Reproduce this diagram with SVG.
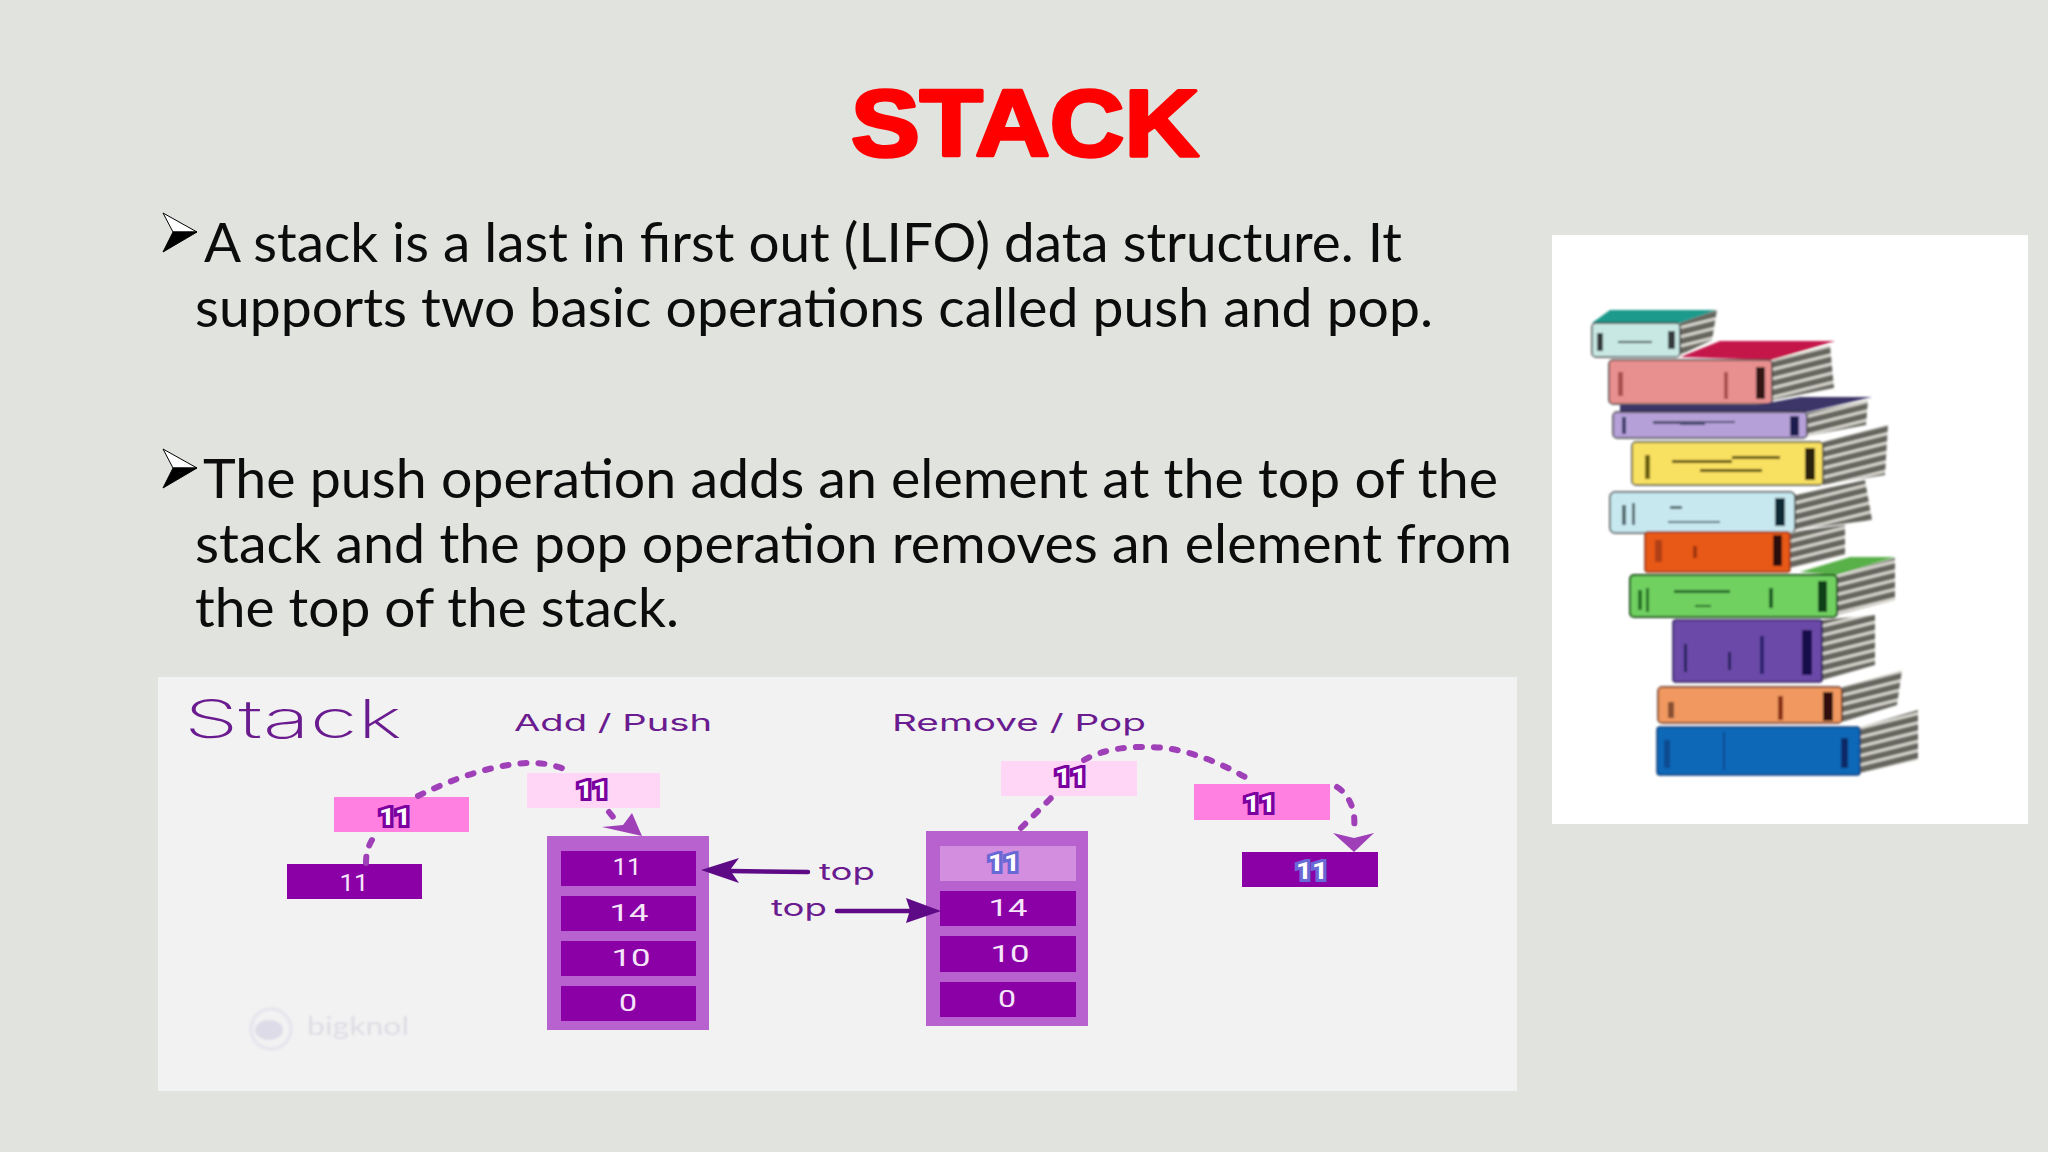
<svg xmlns="http://www.w3.org/2000/svg" width="2048" height="1152" viewBox="0 0 2048 1152">
<defs>
<style>
.body{font-family:"Lato","Liberation Sans",sans-serif;font-size:55px;fill:#0c0c0c}
.lbl{font-family:"Inter","Liberation Sans",sans-serif;fill:#6a1b8f}
.cell{fill:#8a00a6}
.frame{fill:#b862d0}
.val{font-family:"Roboto","Liberation Sans",sans-serif;font-size:23px;fill:#f6e4fa;text-anchor:middle}
.out{font-family:"Roboto","Liberation Sans",sans-serif;font-weight:700;font-size:24px;text-anchor:middle;fill:#fff;stroke:#7a00a0;stroke-width:6px;paint-order:stroke}
.blue{stroke:#6a68d4}
.dash{fill:none;stroke:#a040b8;stroke-width:6;stroke-linecap:round;stroke-dasharray:6 12}
.head{fill:#a040b8}
.top{fill:none;stroke:#5e0a86;stroke-width:4.5;stroke-linecap:round}
.toph{fill:#5e0a86}
.pg{fill:url(#pages)}
.sp{fill:#1c1c1c;opacity:.85}
.edge{stroke:#3c3c3c;stroke-width:1.5}
</style>
<pattern id="pages" width="12" height="9" patternUnits="userSpaceOnUse" patternTransform="rotate(-14)">
<rect width="12" height="9" fill="#66665e"/><rect y="3" width="12" height="2.6" fill="#e4e2da"/>
</pattern>
<filter id="soft" x="-5%" y="-5%" width="110%" height="110%"><feGaussianBlur stdDeviation="0.8"/></filter>
<filter id="soft2" x="-30%" y="-30%" width="160%" height="160%"><feGaussianBlur stdDeviation="1.2"/></filter>
<g id="bullet"><polygon points="163,213 197,232 173,232" fill="#fff" stroke="#000" stroke-width="1" stroke-linejoin="round"/><polygon points="163,252 197,232 173,232" fill="#000" stroke="#000" stroke-width="1" stroke-linejoin="round"/></g>
</defs>
<rect width="2048" height="1152" fill="#e1e4de"/>
<g id="title"><text x="851" y="156" font-family="Liberation Sans, Arial, sans-serif" font-weight="700" font-size="95" fill="#fe0000" stroke="#fe0000" stroke-width="3.5" stroke-linejoin="round" textLength="348" lengthAdjust="spacingAndGlyphs">STACK</text></g>
<g id="bullets">
<use href="#bullet"/>
<use href="#bullet" y="236"/>
<text class="body" x="204" y="262" textLength="1198" lengthAdjust="spacingAndGlyphs">A stack is a last in first out (LIFO) data structure. It</text>
<text class="body" x="195" y="327" textLength="1238" lengthAdjust="spacingAndGlyphs">supports two basic operations called push and pop.</text>
<text class="body" x="203" y="498" textLength="1295" lengthAdjust="spacingAndGlyphs">The push operation adds an element at the top of the</text>
<text class="body" x="195" y="563" textLength="1317" lengthAdjust="spacingAndGlyphs">stack and the pop operation removes an element from</text>
<text class="body" x="195" y="627" textLength="484" lengthAdjust="spacingAndGlyphs">the top of the stack.</text>
</g>
<g id="stack-figure">
<rect x="158" y="677" width="1359" height="414" fill="#f2f2f2"/>
<text class="lbl" x="184" y="738" font-size="53" font-weight="200" textLength="218" lengthAdjust="spacingAndGlyphs">Stack</text>
<text class="lbl" x="514" y="731" font-size="23" textLength="198" lengthAdjust="spacingAndGlyphs">Add / Push</text>
<text class="lbl" x="892" y="731" font-size="23" textLength="254" lengthAdjust="spacingAndGlyphs">Remove / Pop</text>
<g id="watermark" filter="url(#soft2)">
<circle cx="271" cy="1029" r="20" fill="none" stroke="#e8e6ee" stroke-width="4"/>
<ellipse cx="269" cy="1030" rx="14" ry="10" fill="#dedbe8"/>
<text x="307" y="1035" font-family="Lato, Liberation Sans, sans-serif" font-size="25" fill="#dedce4" textLength="102" lengthAdjust="spacingAndGlyphs">bigknol</text>
</g>
<text class="lbl" x="819" y="880" font-size="24" textLength="56" lengthAdjust="spacingAndGlyphs">top</text>
<text class="lbl" x="771" y="916" font-size="24" textLength="56" lengthAdjust="spacingAndGlyphs">top</text>
</g>
<g id="push-source"><rect class="cell" x="287" y="864" width="135" height="35"/><text class="val" x="354" y="891" textLength="29" lengthAdjust="spacingAndGlyphs">11</text></g>
<g id="push-moving"><rect x="334" y="797" width="135" height="35" fill="#ff80e0"/><text class="out" x="395" y="825" textLength="32" lengthAdjust="spacingAndGlyphs">11</text></g>
<g id="push-landing"><rect x="527" y="773" width="133" height="35" fill="#ffd6f5"/><text class="out" x="593" y="798" textLength="32" lengthAdjust="spacingAndGlyphs">11</text></g>
<g id="push-stack">
<rect class="frame" x="547" y="836" width="162" height="194"/>
<rect class="cell" x="561" y="851" width="135" height="35"/><text class="val" x="627" y="875" textLength="29" lengthAdjust="spacingAndGlyphs">11</text>
<rect class="cell" x="561" y="896" width="135" height="35"/><text class="val" x="629" y="921" textLength="39" lengthAdjust="spacingAndGlyphs">14</text>
<rect class="cell" x="561" y="941" width="135" height="35"/><text class="val" x="631" y="966" textLength="39" lengthAdjust="spacingAndGlyphs">10</text>
<rect class="cell" x="561" y="986" width="135" height="35"/><text class="val" x="628" y="1011" textLength="18" lengthAdjust="spacingAndGlyphs">0</text>
</g>
<g id="pop-stack">
<rect class="frame" x="926" y="831" width="162" height="195"/>
<rect x="940" y="846" width="136" height="35" fill="#d48ee0"/><text class="out blue" x="1004" y="871" textLength="32" lengthAdjust="spacingAndGlyphs">11</text>
<rect class="cell" x="940" y="891" width="136" height="35"/><text class="val" x="1008" y="916" textLength="39" lengthAdjust="spacingAndGlyphs">14</text>
<rect class="cell" x="940" y="936" width="136" height="36"/><text class="val" x="1010" y="962" textLength="39" lengthAdjust="spacingAndGlyphs">10</text>
<rect class="cell" x="940" y="982" width="136" height="35"/><text class="val" x="1007" y="1007" textLength="18" lengthAdjust="spacingAndGlyphs">0</text>
</g>
<g id="pop-lifting"><rect x="1001" y="761" width="136" height="35" fill="#ffd6f5"/><text class="out" x="1071" y="785" textLength="32" lengthAdjust="spacingAndGlyphs">11</text></g>
<g id="pop-moving"><rect x="1194" y="784" width="136" height="36" fill="#ff80e0"/><text class="out" x="1260" y="812" textLength="32" lengthAdjust="spacingAndGlyphs">11</text></g>
<g id="pop-result"><rect class="cell" x="1242" y="852" width="136" height="35"/><text class="out blue" x="1312" y="879" textLength="32" lengthAdjust="spacingAndGlyphs">11</text></g>
<g id="connectors">
<path class="dash" d="M366 863C366 850 370 842 376 834"/>
<path class="dash" d="M418 796C450 780 490 765 527 763C545 762 560 767 572 772"/>
<path class="dash" d="M609 812L617 822"/>
<polygon class="head" points="602,827 623,825 632,813 642,836"/>
<path class="dash" d="M1021 828L1053 796"/>
<path class="dash" d="M1084 760C1105 748 1135 745 1165 748C1195 752 1225 765 1252 781"/>
<path class="dash" d="M1337 787C1350 795 1356 812 1354 828"/>
<polygon class="head" points="1333,833 1354,838 1374,833 1354,852"/>
<path class="top" d="M730 871L808 872"/>
<polygon class="toph" points="701,870 739,858 730,870 739,883"/>
<path class="top" d="M837 911L915 911"/>
<polygon class="toph" points="941,911 906,898 910,910 906,923"/>
</g>
<g id="books-picture">
<rect x="1552" y="235" width="476" height="589" fill="#fff"/>
<g filter="url(#soft)">
<polygon points="1592,323 1610,310 1717,310 1680,323" fill="#1a9a8c"/>
<polygon class="pg" points="1680,323 1717,310 1712,340 1680,355"/>
<rect class="edge" x="1592" y="323" width="88" height="34" rx="4" fill="#c8e8e4"/>
<rect class="sp" x="1597" y="333" width="6" height="18"/><rect class="sp" x="1668" y="331" width="7" height="18"/><rect class="sp" x="1618" y="341" width="34" height="2"/>

<polygon points="1680,357 1720,341 1835,341 1772,360" fill="#c41848"/>
<polygon class="pg" points="1772,360 1830,345 1834,388 1772,400"/>
<rect class="edge" x="1609" y="360" width="163" height="44" rx="4" fill="#e8908f"/>
<rect x="1756" y="367" width="9" height="32" fill="#321414"/><rect x="1618" y="372" width="5" height="24" fill="#a85050"/><rect x="1724" y="372" width="4" height="27" fill="#a85050"/>

<polygon points="1620,405 1757,405 1800,397 1872,397 1808,412 1620,412" fill="#3a3468"/>
<polygon class="pg" points="1807,413 1868,400 1866,425 1807,436"/>
<rect class="edge" x="1613" y="412" width="194" height="26" rx="4" fill="#b5a0d8"/>
<rect x="1790" y="416" width="9" height="20" fill="#1c1c50"/><rect x="1622" y="417" width="4" height="17" fill="#3c3c6c"/><rect x="1653" y="421" width="42" height="3" fill="#4c4a70"/><rect x="1680" y="423" width="25" height="2" fill="#4c4a70"/><rect x="1695" y="421" width="40" height="2" fill="#4c4a70"/>

<polygon class="pg" points="1823,442 1888,425 1885,475 1823,485"/>
<rect class="edge" x="1632" y="442" width="191" height="43" rx="4" fill="#f8e060"/>
<rect x="1805" y="448" width="10" height="32" fill="#2a2410"/><rect x="1645" y="455" width="5" height="24" fill="#6c6010"/><rect x="1672" y="460" width="60" height="3" fill="#5c5010"/><rect x="1732" y="456" width="48" height="3" fill="#5c5010"/><rect x="1700" y="469" width="62" height="3" fill="#5c5010"/>

<polygon class="pg" points="1795,495 1865,480 1872,520 1795,530"/>
<rect class="edge" x="1610" y="492" width="185" height="41" rx="5" fill="#c8e8f0"/>
<rect x="1775" y="498" width="10" height="28" fill="#0c2c34"/><rect x="1622" y="505" width="4" height="20" fill="#50686c"/><rect x="1632" y="503" width="3" height="22" fill="#50686c"/><rect x="1670" y="506" width="12" height="3" fill="#50686c"/><rect x="1668" y="521" width="52" height="2" fill="#50686c"/>

<polygon class="pg" points="1790,532 1845,525 1845,555 1790,568"/>
<rect x="1645" y="532" width="145" height="40" rx="3" fill="#e85818" stroke="#8c3010" stroke-width="1.5"/>
<rect x="1773" y="535" width="9" height="31" fill="#2c0c0c"/><rect x="1655" y="540" width="7" height="22" fill="#b04018"/><rect x="1693" y="546" width="4" height="12" fill="#a03810"/>

<polygon points="1800,572 1850,557 1895,557 1837,575" fill="#58b048"/>
<polygon class="pg" points="1837,575 1895,558 1895,600 1837,615"/>
<rect x="1630" y="575" width="207" height="42" rx="4" fill="#70d060" stroke="#185018" stroke-width="2"/>
<rect x="1818" y="581" width="9" height="31" fill="#0c4018"/><rect x="1638" y="590" width="4" height="20" fill="#207028"/><rect x="1646" y="588" width="3" height="24" fill="#207028"/><rect x="1674" y="590" width="56" height="3" fill="#206828"/><rect x="1695" y="605" width="16" height="2" fill="#206828"/><rect x="1769" y="588" width="4" height="20" fill="#185c20"/>

<polygon class="pg" points="1822,620 1875,615 1875,665 1822,680"/>
<rect x="1673" y="620" width="149" height="62" rx="3" fill="#6a48a8" stroke="#241450" stroke-width="1.5"/>
<rect x="1802" y="630" width="10" height="45" fill="#18104c"/><rect x="1684" y="644" width="3" height="28" fill="#20205c"/><rect x="1728" y="652" width="3" height="18" fill="#20205c"/><rect x="1760" y="636" width="4" height="38" fill="#2c2070"/>

<polygon class="pg" points="1842,687 1902,670 1897,705 1842,722"/>
<rect x="1658" y="687" width="184" height="36" rx="4" fill="#f09860" stroke="#5c2010" stroke-width="1.5"/>
<rect x="1823" y="692" width="10" height="29" fill="#301008"/><rect x="1668" y="702" width="6" height="16" fill="#885030"/><rect x="1778" y="696" width="5" height="24" fill="#8c3018"/>

<polygon class="pg" points="1860,727 1918,710 1918,760 1860,773"/>
<rect x="1657" y="727" width="203" height="48" rx="3" fill="#1068b8" stroke="#0c3c78" stroke-width="1.5"/>
<rect x="1841" y="738" width="7" height="30" fill="#0c2c68"/><rect x="1723" y="732" width="2" height="38" fill="#0c4890"/><rect x="1664" y="740" width="6" height="28" fill="#0c4c90"/>
</g>
</g>
</svg>
